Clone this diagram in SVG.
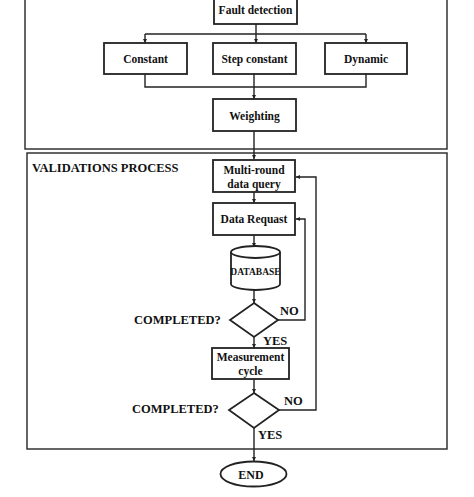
<svg xmlns="http://www.w3.org/2000/svg" width="474" height="497" viewBox="0 0 474 497">
<style>
.box{fill:#fff;stroke:#222;stroke-width:1.8}
.frame{fill:none;stroke:#333;stroke-width:1.5}
.ln{fill:none;stroke:#222;stroke-width:1.4}
text{font-family:"Liberation Serif","Times New Roman",serif;font-weight:bold;font-size:11.5px;fill:#111}
.c{text-anchor:middle}
.u{font-size:12.5px}
</style>
<defs>
<marker id="ah" viewBox="0 0 6 6" refX="6" refY="3" markerWidth="4" markerHeight="4" orient="auto" markerUnits="userSpaceOnUse">
<path d="M0,0 L6,3 L0,6 z" fill="#222"/>
</marker>
</defs>
<rect width="474" height="497" fill="#fff"/>
<rect class="frame" x="25" y="-5" width="422" height="154"/>
<rect class="frame" x="27" y="153" width="420" height="296"/>
<g id="connectors">
<path class="ln" d="M256,24 V34" />
<path class="ln" d="M145,34 H366" />
<path class="ln" d="M145,34 V43" marker-end="url(#ah)"/>
<path class="ln" d="M256,34 V43" marker-end="url(#ah)"/>
<path class="ln" d="M366,34 V43" marker-end="url(#ah)"/>
<path class="ln" d="M145,74 V87 H366 V74"/>
<path class="ln" d="M254,74 V99" marker-end="url(#ah)"/>
<path class="ln" d="M254,131 V159" marker-end="url(#ah)"/>
<path class="ln" d="M254,192 V203" marker-end="url(#ah)"/>
<path class="ln" d="M254,235 V247" marker-end="url(#ah)"/>
<path class="ln" d="M254,290 V303" marker-end="url(#ah)"/>
<path class="ln" d="M278,320 H305 V219 H296" marker-end="url(#ah)"/>
<path class="ln" d="M254,337 V348" marker-end="url(#ah)"/>
<path class="ln" d="M254,379 V393" marker-end="url(#ah)"/>
<path class="ln" d="M278,410 H316 V177 H296" marker-end="url(#ah)"/>
<path class="ln" d="M254,428 V461" marker-end="url(#ah)"/>
</g>
<g id="fault-detection"><rect class="box" x="214" y="-3" width="83" height="27"/><text class="c" x="255.5" y="13.5">Fault detection</text></g>
<g id="constant"><rect class="box" x="104" y="43" width="83" height="31"/><text class="c" x="145.5" y="63">Constant</text></g>
<g id="step-constant"><rect class="box" x="213" y="43" width="83" height="31"/><text class="c" x="254.5" y="63">Step constant</text></g>
<g id="dynamic"><rect class="box" x="325" y="43" width="82" height="31"/><text class="c" x="366" y="63">Dynamic</text></g>
<g id="weighting"><rect class="box" x="213" y="99" width="83" height="32"/><text class="c" x="254.5" y="119.5">Weighting</text></g>
<g id="validations-label"><text class="u" x="32" y="172">VALIDATIONS PROCESS</text></g>
<g id="multi-round"><rect class="box" x="213" y="160" width="82" height="32"/><text class="c" x="254" y="174">Multi-round</text><text class="c" x="254" y="188">data query</text></g>
<g id="data-request"><rect class="box" x="213" y="203" width="82" height="32"/><text class="c" x="254" y="223">Data Requast</text></g>
<g id="database">
<path class="box" d="M231,252 V284 A24.5,6 0 0 0 280,284 V252"/>
<ellipse class="box" cx="255.5" cy="252" rx="24.5" ry="6"/>
<text class="c" x="255.5" y="275" style="font-size:9.5px">DATABASE</text>
</g>
<g id="completed-1"><path class="box" d="M254,303 L278,320 L254,337 L230,320 z"/><text class="u" x="134" y="324">COMPLETED?</text><text class="u" x="280" y="315">NO</text><text class="u" x="263" y="345">YES</text></g>
<g id="measurement"><rect class="box" x="212" y="348" width="77" height="31"/><text class="c" x="250.5" y="361">Measurement</text><text class="c" x="250.5" y="375">cycle</text></g>
<g id="completed-2"><path class="box" d="M254,393 L279,410 L254,428 L229,410 z"/><text class="u" x="132" y="413">COMPLETED?</text><text class="u" x="284" y="405">NO</text><text class="u" x="258" y="439">YES</text></g>
<g id="end"><ellipse class="box" cx="253.5" cy="474" rx="33" ry="12.5"/><text class="c" x="251" y="478.5" style="font-size:12px">END</text></g>
</svg>
